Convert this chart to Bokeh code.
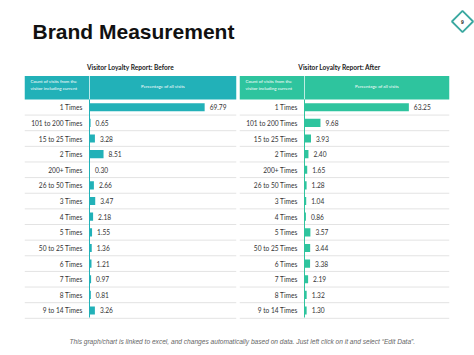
from bokeh.plotting import figure
from bokeh.layouts import column, row
from bokeh.models import Range1d, ColumnDataSource
from bokeh.core.properties import value
from bokeh.embed import file_html
from bokeh.resources import INLINE

# ---------------- data ----------------
title_text = "Brand Measurement"
subtitle_before = "Visitor Loyalty Report: Before"
subtitle_after = "Visitor Loyalty Report: After"
header_left = "Count of visits from the\nvisitor including  current"
header_right = "Percentage of all visits"
categories = ["1 Times", "101 to 200 Times", "15 to 25 Times", "2 Times", "200+ Times",
              "26 to 50 Times", "3 Times", "4 Times", "5 Times", "50 to 25 Times",
              "6 Times", "7 Times", "8 Times", "9 to 14 Times"]
before_values = [69.79, 0.65, 3.28, 8.51, 0.30, 2.66, 3.47, 2.18, 1.55, 1.36, 1.21, 0.97, 0.81, 3.26]
after_values = [63.25, 9.68, 3.93, 2.40, 1.65, 1.28, 1.04, 0.86, 3.57, 3.44, 3.38, 2.19, 1.32, 1.30]
footer_text = ("This graph/chart is linked to excel, and changes automatically  based on data. "
               "Just left click on it and select \u201cEdit Data\u201d.")

COLOR_BEFORE = "#22B1B8"
COLOR_AFTER = "#2EC49E"
TEXT = "#333333"
FONT = value("Lato")


def base_fig(w, h, xr, yr, bl=0, br=0, bt=0, bb=0):
    f = figure(width=w, height=h, x_range=xr, y_range=yr, toolbar_location=None,
               output_backend="svg", x_axis_type=None, y_axis_type=None,
               min_border_left=bl, min_border_right=br, min_border_top=bt, min_border_bottom=bb)
    f.outline_line_color = None
    f.grid.visible = False
    f.background_fill_color = "white"
    f.border_fill_color = "white"
    return f


def make_table(vals, color, subtitle, sub_x, w, bl, br, x_start, x_end):
    n = len(categories)
    yr = Range1d(13.64, -2.99)
    f = base_fig(w, 260, Range1d(x_start, x_end), yr, bl=bl, br=br)
    idx = list(range(n))
    src = ColumnDataSource(dict(y=idx, cat=categories, v=vals,
                                lab=["%.2f" % v for v in vals]))
    # header band
    f.quad(left=[x_start], right=[0], top=[-2.0], bottom=[-0.5], fill_color=color, line_color=None)
    f.quad(left=[0], right=[x_end], top=[-2.0], bottom=[-0.5], fill_color=color, line_color=None)
    f.segment(x0=[0], x1=[0], y0=[-2.0], y1=[-0.5], line_color="white", line_alpha=0.6, line_width=1)
    f.text(x=[x_start], y=[-1.42], text=[header_left], x_offset=6, text_font=FONT,
           text_font_size="4.5px", text_color="white", text_align="left",
           text_baseline="middle", text_line_height=1.3)
    f.text(x=[x_end / 2.0], y=[-1.3], text=[header_right], text_font=FONT,
           text_font_size="4.5px", text_color="white", text_align="center", text_baseline="middle")
    # subtitle
    f.text(x=[sub_x], y=[-2.6], text=[subtitle], text_font=FONT, text_font_style="bold",
           text_font_size="6.6px", text_color="#222222", text_align="center", text_baseline="middle")
    # row separators
    seps = [i + 0.5 for i in idx]
    f.segment(x0=[x_start] * n, x1=[x_end] * n, y0=seps, y1=seps, line_color="#e3e3e3", line_width=1)
    # bars
    f.hbar(y="y", left=0, right="v", height=0.52, source=src, fill_color=color, line_color=None)
    # axis line
    f.segment(x0=[0], x1=[0], y0=[-0.5], y1=[13.45], line_color=color, line_width=1)
    # labels
    f.text(x=0, y="y", text="cat", source=src, x_offset=-7, text_font=FONT, text_font_size="6.6px",
           text_color=TEXT, text_align="right", text_baseline="middle")
    f.text(x="v", y="y", text="lab", source=src, x_offset=5, text_font=FONT, text_font_size="6.6px",
           text_color=TEXT, text_align="left", text_baseline="middle")
    return f


# title
tf = base_fig(474, 60, Range1d(0, 474), Range1d(60, 0))
tf.text(x=[32], y=[30.7], text=[title_text], text_font=value("Liberation Sans"), text_font_style="bold",
        text_font_size="21px", text_color="#111111", text_align="left", text_baseline="alphabetic")
tf.rect(x=[462], y=[21], width=15, height=15, width_units="screen", height_units="screen",
        angle=0.785398, fill_color="white", line_color="#3AA8A0", line_width=1.8)
tf.text(x=[462], y=[21], text=["9"], text_font=value("Liberation Sans"), text_font_style="bold",
        text_font_size="5px", text_color="#222222", text_align="center", text_baseline="middle")

scale = 1.65
left = make_table(before_values, COLOR_BEFORE, subtitle_before, (-39.4 + 89.1) / 2, 237, 24, 1,
                  -(89 - 24) / scale, (236 - 89) / scale)
right = make_table(after_values, COLOR_AFTER, subtitle_after, (339 - 304) / scale, 237, 2, 25,
                   -(304 - 239) / scale, (449 - 304) / scale)

ff = base_fig(474, 35, Range1d(0, 474), Range1d(35, 0))
ff.text(x=[242.7], y=[20.7], text=[footer_text], text_font=value("Liberation Sans"),
        text_font_style="italic", text_font_size="6.6px", text_color="#666666",
        text_align="center", text_baseline="middle")

p = column(tf, row(left, right, spacing=0), ff, spacing=0)
open("out.html", "w").write(file_html(p, INLINE))
